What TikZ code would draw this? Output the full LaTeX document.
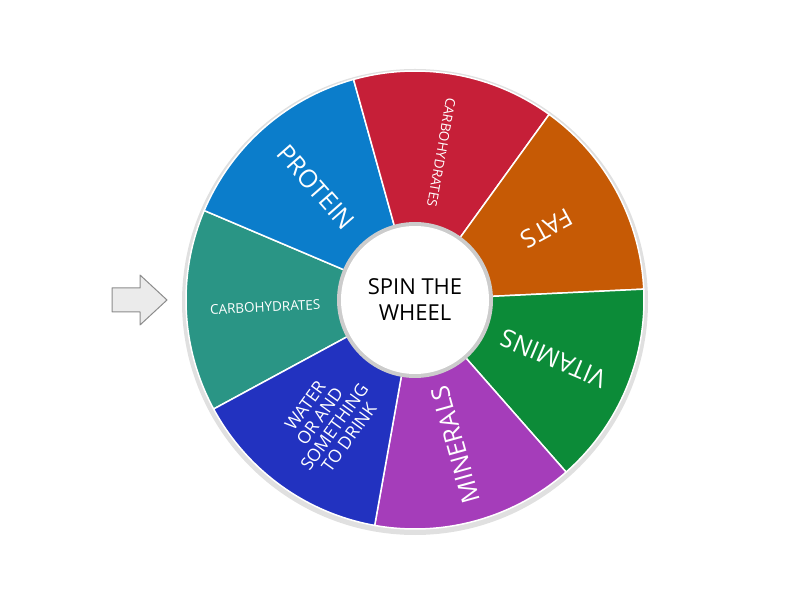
\documentclass[tikz,border=0pt]{standalone}
\usepackage{fontspec}
\setmainfont{Open Sans}
\usetikzlibrary{calc}
\definecolor{cA}{HTML}{2A9585}
\definecolor{cB}{HTML}{0B7DCB}
\definecolor{cC}{HTML}{C61F38}
\definecolor{cD}{HTML}{C65A05}
\definecolor{cE}{HTML}{0C8B38}
\definecolor{cF}{HTML}{A53DBA}
\definecolor{cG}{HTML}{2232C0}
\tikzset{lab/.style={text=white,align=center,inner sep=0pt}}
\begin{document}
\begin{tikzpicture}[x=1pt,y=1pt]
\useasboundingbox (0,0) rectangle (800,600);
\coordinate (c) at (415,300);
\fill[black!12] (415,298) circle (233);
\foreach \a/\col in {157/cA,105.57/cB,54.14/cC,2.71/cD,-48.71/cE,-100.14/cF,-151.57/cG}{
  \fill[\col,draw=white,line width=1.5pt] (c) -- ++(\a:229) arc[start angle=\a,delta angle=51.43,radius=229] -- cycle;
}
\node[lab,font=\fontsize{13.5}{15}\selectfont,rotate=2.71] (t1) at ($(c)+(182.71:150)$) {CARBOHYDRATES};
\node[lab,font=\fontsize{25}{27}\selectfont,rotate=-48.71] (t2) at ($(c)+(131.29:150)$) {PROTEIN};
\node[lab,font=\fontsize{13.5}{15}\selectfont,rotate=-100.14] (t3) at ($(c)+(79.86:150)$) {CARBOHYDRATES};
\node[lab,font=\fontsize{25}{27}\selectfont,rotate=-151.57] (t4) at ($(c)+(28.43:150)$) {FATS};
\node[lab,font=\fontsize{25}{27}\selectfont,rotate=157] (t5) at ($(c)+(-23:150)$) {VITAMINS};
\node[lab,font=\fontsize{25}{27}\selectfont,rotate=105.57] (t6) at ($(c)+(-74.43:150)$) {MINERALS};
\node[lab,font=\fontsize{17.5}{18}\selectfont,rotate=54.14] (t7) at ($(c)+(-125.86:150)$) {WATER\\OR AND\\SOMETHING\\TO DRINK};
\fill[black!20] (c) circle (78);
\fill[white] (c) circle (74);
\node[align=center,font=\fontsize{22}{26}\selectfont] (ctr) at (c) {SPIN THE\\WHEEL};
\draw[black!45,fill=black!8,line width=1pt,line join=round] (112,312) -- (140,312) -- (140,325) -- (167,300) -- (140,275) -- (140,288) -- (112,288) -- cycle;
\end{tikzpicture}
\end{document}
